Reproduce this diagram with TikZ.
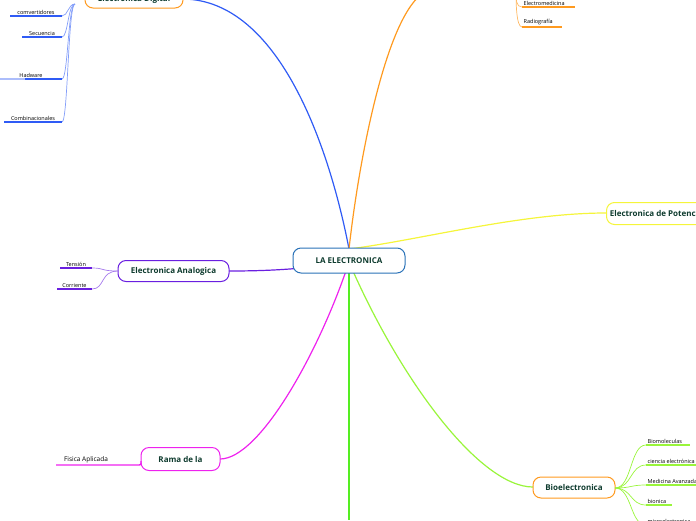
\documentclass[tikz,border=0pt]{standalone}
\usepackage{fontspec}
\setmainfont{Open Sans}
\definecolor{cblue}{HTML}{2F5BF5}
\definecolor{corange}{HTML}{FF9A1F}
\definecolor{cyellow}{HTML}{F5F53A}
\definecolor{cpurple}{HTML}{6A1FE0}
\definecolor{cmag}{HTML}{EE22EE}
\definecolor{cgreen}{HTML}{55EE22}
\definecolor{clime}{HTML}{99F53A}
\definecolor{bord}{HTML}{2A72B8}
\definecolor{ntext}{HTML}{0E3B2E}
\begin{document}
\begin{tikzpicture}[x=1pt,y=-1pt,
 mainb/.style={draw,rounded corners=8pt,line width=1pt,fill=white,inner sep=0pt,font=\fontsize{8}{9}\selectfont\bfseries,text=ntext},
 leaf/.style={font=\fontsize{5.5}{6}\selectfont,inner sep=1.5pt,anchor=south},
 con/.style={line width=1.2pt},
 ul/.style={line width=1.4pt}]
\useasboundingbox (0,0) rectangle (696,520);
% connectors from center
\coordinate (c) at (349,249);
\coordinate (down) at (349,520);
\draw[con,cblue] (c) .. controls (330,150) and (280,0) .. (183,-1);
\draw[con,corange] (c) .. controls (360,150) and (390,0) .. (430,-10);
\draw[con,cyellow] (c) .. controls (420,240) and (520,213) .. (606,213);
\draw[con,cpurple] (349,262) .. controls (300,270) and (260,271) .. (229,271);
\draw[con,cmag] (349,262) .. controls (320,350) and (260,459) .. (220,459);
\draw[con,cgreen,line width=1.6pt] (c) -- (down);
\draw[con,clime] (349,262) .. controls (400,380) and (480,487) .. (533,487);
% nodes
\node[mainb,draw=bord,minimum width=112pt,minimum height=25pt] (m) at (349,260.5) {LA ELECTRONICA};
\node[mainb,draw=corange,minimum width=98pt,minimum height=18pt] (dig) at (134,-1) {Electronica Digital};
\node[mainb,draw=cyellow,minimum width=100pt,minimum height=22pt,anchor=west] (pot) at (606,213.5) {Electronica de Potencia};
\node[mainb,draw=cpurple,minimum width=111pt,minimum height=21pt] (ana) at (173.5,271) {Electronica Analogica};
\node[mainb,draw=cmag,minimum width=79pt,minimum height=23pt] (rama) at (180.5,459) {Rama de la};
\node[mainb,draw=corange,minimum width=82pt,minimum height=21pt] (bio) at (574,487.5) {Bioelectronica};
% digital leaves
\foreach \y/\a/\t in {16/10/comvertidores,37/22/Secuencia,79/0/Hadware,122/4/Combinacionales}{
 \draw[cblue!60,line width=0.7pt] (75,4) .. controls (68,4) and (68,\y) .. (62,\y);
 \draw[cblue,ul] (\a,\y) -- (62,\y);
 \node[leaf] at ({(\a+62)/2},\y) {\t};}
\draw[cblue!40,ul] (0,79) -- (25,79);
% analog leaves
\foreach \y/\a/\t in {268/60/Tensión,289/57/Corriente}{
 \draw[cpurple!60,line width=0.7pt] (118,271) .. controls (100,271) and (105,\y) .. (92,\y);
 \draw[cpurple,ul] (\a,\y) -- (92,\y);
 \node[leaf] at ({(\a+92)/2},\y) {\t};}
% rama leaf
\draw[cmag,ul] (56,465) -- (139,465) .. controls (141,465) .. (141,461);
\node[leaf,font=\fontsize{6.5}{7}\selectfont] at (86,465) {Fisica Aplicada};
% orange leaves
\foreach \y/\b/\t in {7/575/Electromedicina,27/562/Radiografía}{
 \draw[corange!70,line width=0.7pt] (516,-10) .. controls (516,0) and (516,\y) .. (522,\y);
 \draw[corange,ul] (522,\y) -- (\b,\y);
 \node[leaf,anchor=south west] at (522,\y) {\t};}
% bio leaves
\foreach \y/\b/\t in {445/690/Biomoleculas,465/700/ciencia electrónica,485/700/Medicina Avanzada,505/672/bionica,525/700/microelectronica}{
 \draw[clime,line width=0.7pt] (615,488) .. controls (632,488) and (630,\y) .. (646,\y);
 \draw[clime,ul] (646,\y) -- (\b,\y);
 \node[leaf,anchor=south west] at (646,\y) {\t};}
\end{tikzpicture}
\end{document}
